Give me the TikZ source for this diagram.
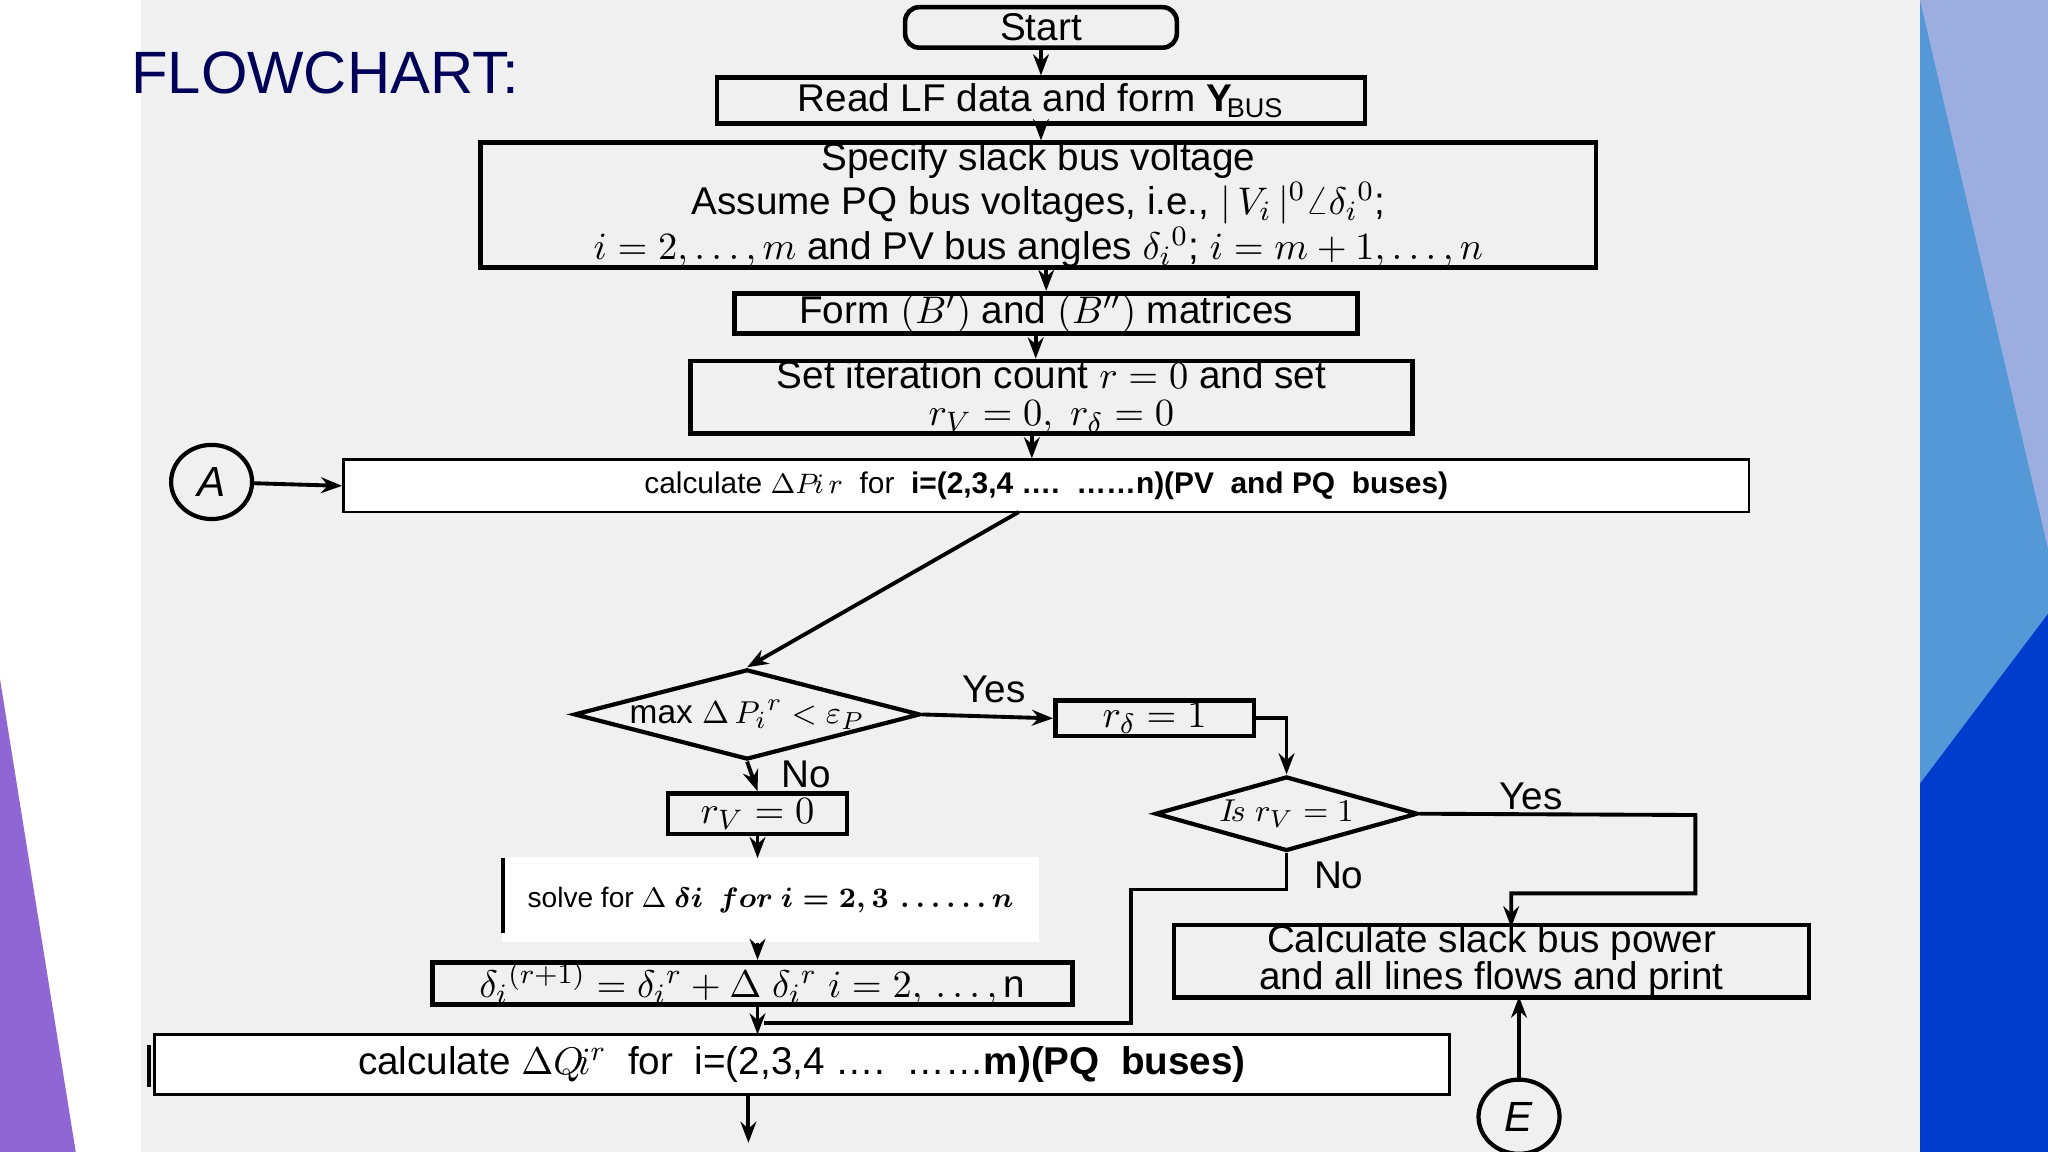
\documentclass[tikz,border=0pt]{standalone}
\usepackage{amsmath}
\usepackage{fontspec}
\setmainfont{Liberation Sans}
\usetikzlibrary{shapes.geometric,arrows.meta}
\begin{document}
\begin{tikzpicture}[x=0.013061cm,y=-0.013061cm,
 bx/.style={draw,line width=1.3pt,inner sep=0pt,font=\fontsize{11}{11.5}\selectfont},
 wb/.style={draw,fill=white,line width=0.8pt,inner sep=0pt},
 ar/.style={-{Stealth[length=6pt]},line width=1.1pt},
 ln/.style={line width=1.1pt},
 lbl/.style={font=\fontsize{11}{11.5}\selectfont},
 dlbl/.style={font=\fontsize{9.5}{10}\selectfont}]
\useasboundingbox (0,0) rectangle (1568,882);
\fill[white] (0,0) rectangle (1568,882);
\fill[gray!12] (108,0) rectangle (1470,882);
\fill[blue!45!violet!60] (0,520) -- (58,882) -- (0,882) -- cycle;
\fill[cyan!60!blue!70] (1470,0) rectangle (1568,882);
\fill[cyan!40!blue!40] (1470,0) -- (1568,0) -- (1568,420) -- cycle;
\fill[blue!70!cyan!80!black] (1470,600) -- (1568,470) -- (1568,882) -- (1470,882) -- cycle;
\node[anchor=west,text=blue!35!black,font=\fontsize{17}{18}\selectfont,inner sep=0pt] (title) at (100,56) {FLOWCHART:};

\node[bx,rounded corners=4pt,minimum width=208*0.013061cm,minimum height=31*0.013061cm] (start) at (797,21) {Start};
\node[bx,minimum width=496*0.013061cm,minimum height=35*0.013061cm] (read) at (797,77) {Read LF data and form $\mathbf{Y}_{\!\mathrm{BUS}}$};
\node[bx,minimum width=854*0.013061cm,minimum height=72*0.013061cm,align=center,font=\fontsize{11}{10}\selectfont] (spec) at (795,157) {Specify slack bus voltage\\ Assume PQ bus voltages, i.e., $|\,V_i\,|^0\angle\delta_i{}^0$;\\ $i=2,\ldots,m$ and PV bus angles $\delta_i{}^0$; $i=m+1,\ldots,n$};
\node[bx,minimum width=477*0.013061cm,minimum height=31*0.013061cm] (form) at (801,240) {Form $(B')$ and $(B'')$ matrices};
\node[bx,minimum width=553*0.013061cm,minimum height=47*0.013061cm,align=center,font=\fontsize{11}{10.5}\selectfont] (set) at (805,304) {Set iteration count $r=0$ and set\\ $r_V=0,\ r_\delta=0$};
\draw[ar] (start) -- (read);
\draw[ar] (read) -- (spec.north -| read.south);
\draw[ar] (spec.south -| form.north) -- (form);
\draw[ar] (form.south -| 793,0) -- (set.north -| 793,0);
\node[wb,minimum width=1076*0.013061cm,minimum height=40*0.013061cm,font=\fontsize{8.5}{9}\selectfont] (dp) at (801,372) {calculate $\Delta P\!i\,r$\ \ for\ \ \textbf{i=(2,3,4 \dots.\ \ \dots\dots n)(PV\ \ and PQ\ \ buses)}};
\draw[ar] (set.south -| 790,0) -- (dp.north -| 790,0);
\node[draw,ellipse,line width=1.2pt,minimum width=62*0.013061cm,minimum height=30*0.013061cm,font=\itshape\fontsize{12}{12}\selectfont] (A) at (162,369) {A};
\draw[ar] (A) -- (dp.west);
\node[draw,diamond,aspect=4.2,line width=1.2pt,minimum width=265*0.013061cm,minimum height=69*0.013061cm,inner sep=-4pt,dlbl] (d1) at (572,547) {max $\Delta\,P_i{}^r<\varepsilon_P$};
\coordinate (dpb) at (780,392);
\draw[ar] (dpb) -- (d1.north);
\node[bx,minimum width=152*0.013061cm,minimum height=27*0.013061cm] (rd) at (884,550) {$r_\delta=1$};
\draw[ar] (d1.east) -- node[above,lbl,pos=0.55]{Yes} (rd.west);
\node[draw,diamond,aspect=3.6,line width=1.2pt,minimum width=201*0.013061cm,minimum height=57*0.013061cm,inner sep=-3pt,dlbl] (d2) at (985,623) {$I\!s\ r_V=1$};
\draw[ar] (rd.east) -| (d2.north);
\node[bx,minimum width=137*0.013061cm,minimum height=31*0.013061cm] (rv) at (580,623) {$r_V=0$};
\draw[ar] (d1.south) -- (rv.north);
\node[lbl] at (617,593) {No};
\node[wb,draw=none,minimum width=411*0.013061cm,minimum height=65*0.013061cm,font=\fontsize{8}{9}\selectfont] (solve) at (590,689) {solve for $\Delta\ \boldsymbol{\delta i}\ \ \boldsymbol{for\ i=2,3\,\dots\dots n}$};
\draw[ln] (385,657) -- (385,714);
\draw[ar] (rv.south) -- (580,657);
\node[bx,minimum width=490*0.013061cm,minimum height=29*0.013061cm] (dd) at (576,753) {$\delta_i{}^{(r+1)}=\delta_i{}^r+\Delta\ \delta_i{}^r\ i=2,\,\ldots,\,$n};
\draw[ar] (580,722) -- (dd.north -| 580,0);
\node[wb,minimum width=992*0.013061cm,minimum height=46*0.013061cm,font=\fontsize{11}{12}\selectfont] (dq) at (614,815) {calculate $\Delta Q\!i^r$\ \ for\ \ i=(2,3,4 \dots.\ \ \dots\dots \textbf{m)(PQ\ \ buses)}};
\draw[ln] (114,800) -- (114,832);
\draw[ar] (580,768) -- (580,792);
\coordinate (bot) at (573,875);
\draw[ar] (573,838) -- (bot);
\node[bx,minimum width=486*0.013061cm,minimum height=53*0.013061cm,align=center,font=\fontsize{11}{10.5}\selectfont] (cs) at (1142,736) {Calculate slack bus power\\ and all lines flows and print};
\draw[ar] (d2.east) -- (1298,624) -- (1298,684) -- (1157,684) -- (1157,710);
\node[lbl] at (1172,610) {Yes};
\draw[ln] (d2.south) -- (985,681) -- (866,681) -- (866,783) -- (585,783);
\node[lbl] at (1025,670) {No};
\node[draw,ellipse,line width=1.2pt,minimum width=62*0.013061cm,minimum height=38*0.013061cm,font=\itshape\fontsize{12}{12}\selectfont] (E) at (1163,855) {E};
\draw[ar] (E) -- (1163,763);
\end{tikzpicture}
\end{document}
